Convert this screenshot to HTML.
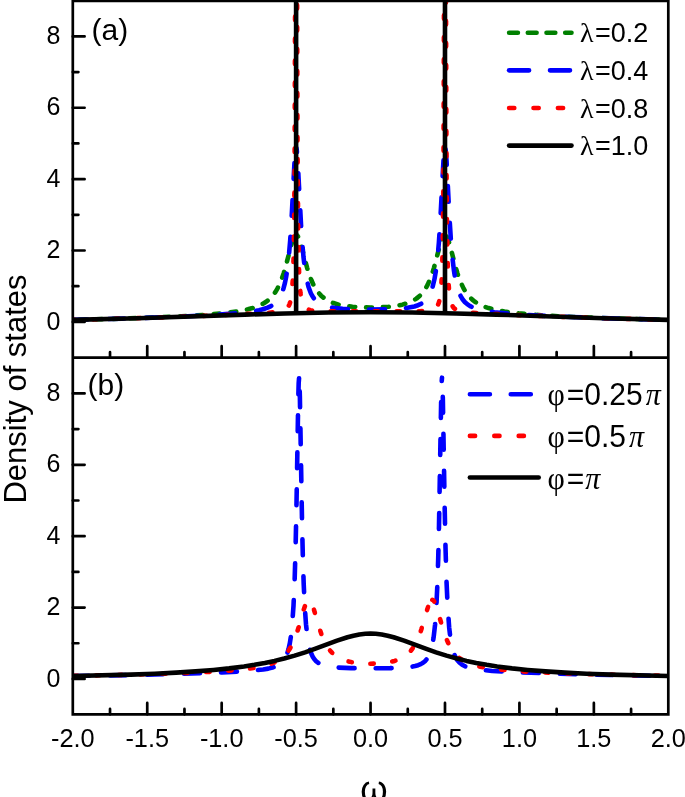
<!DOCTYPE html>
<html><head><meta charset="utf-8"><style>
html,body{margin:0;padding:0;background:#fff;width:685px;height:797px;overflow:hidden}
svg{display:block}
text{font-family:"Liberation Sans", Arial, sans-serif;fill:#000}
</style></head><body>
<svg width="685" height="797" viewBox="0 0 685 797">
<defs>
<clipPath id="ca"><rect x="72.8" y="0.8" width="595.5" height="356.8"/></clipPath>
<clipPath id="cb"><rect x="72.8" y="357.6" width="595.5" height="356.69999999999993"/></clipPath>
</defs>
<g clip-path="url(#ca)">
<path d="M72.80,319.86 L113.44,318.84 L151.46,317.58 L181.50,316.29 L204.33,314.92 L222.36,313.36 L236.71,311.52 L247.88,309.34 L252.57,308.06 L256.70,306.65 L260.16,305.19 L263.34,303.53 L266.19,301.70 L268.81,299.63 L271.21,297.32 L273.45,294.72 L275.49,291.86 L277.41,288.63 L280.65,281.76 L283.72,273.18 L286.34,264.08 L291.06,245.62 L292.76,240.00 L294.49,236.11 L295.31,235.15 L296.11,234.81" fill="none" stroke="#008000" stroke-width="4.6" stroke-linecap="round" stroke-linejoin="round" stroke-dasharray="5.90 10.90" stroke-dashoffset="10.18"/>
<path d="M296.11,234.81 L296.97,235.13 L297.86,236.20 L298.77,237.98 L299.76,240.62 L301.47,246.40 L307.13,267.82 L309.21,274.42 L311.30,280.01 L313.49,284.84 L315.84,289.02 L318.37,292.60 L321.12,295.65 L324.70,298.64 L328.75,301.09 L333.41,303.08 L338.77,304.65 L345.13,305.88 L352.54,306.76 L361.13,307.31 L370.55,307.49 L379.97,307.31 L388.56,306.76 L395.97,305.88 L402.33,304.65 L407.69,303.08 L412.35,301.09 L416.40,298.64 L419.98,295.65 L422.73,292.60 L425.26,289.02 L427.61,284.84 L429.80,280.01 L431.89,274.42 L433.97,267.82 L439.63,246.40 L441.34,240.62 L442.33,237.98 L443.24,236.20 L444.13,235.13 L444.99,234.81" fill="none" stroke="#008000" stroke-width="4.6" stroke-linecap="round" stroke-linejoin="round" stroke-dasharray="5.90 10.90" stroke-dashoffset="3.25"/>
<path d="M444.99,234.81 L445.79,235.15 L446.61,236.11 L448.34,240.00 L450.04,245.62 L454.76,264.08 L457.38,273.18 L460.45,281.76 L463.69,288.63 L465.61,291.86 L467.65,294.72 L469.89,297.32 L472.29,299.63 L474.91,301.70 L477.76,303.53 L480.94,305.19 L484.40,306.65 L488.53,308.06 L493.22,309.34 L504.39,311.52 L518.74,313.36 L536.77,314.92 L559.60,316.29 L589.64,317.58 L627.66,318.84 L668.30,319.86" fill="none" stroke="#008000" stroke-width="4.6" stroke-linecap="round" stroke-linejoin="round" stroke-dasharray="5.90 10.90" stroke-dashoffset="13.87"/>
<path d="M72.80,319.87 L122.26,318.62 L170.44,317.01 L203.16,315.56 L228.67,313.92 L246.70,312.18 L253.46,311.24 L259.04,310.20 L263.73,309.02 L267.64,307.66 L270.99,306.06 L273.89,304.15 L276.35,301.93 L278.53,299.26 L280.42,296.11 L282.10,292.41 L283.55,288.19 L284.89,283.12 L286.06,277.40 L287.18,270.45 L288.80,256.78 L290.23,239.82 L291.70,216.24 L294.58,160.59 L295.38,150.70 L295.75,148.28 L296.11,147.47" fill="none" stroke="#0000ff" stroke-width="4.6" stroke-linecap="round" stroke-linejoin="round" stroke-dasharray="15.90 21.10" stroke-dashoffset="1.31"/>
<path d="M296.11,147.47 L296.45,148.16 L296.80,150.29 L297.53,158.71 L301.06,225.31 L302.25,242.88 L303.48,256.86 L304.93,269.09 L306.61,279.06 L308.54,286.95 L310.85,293.20 L312.19,295.80 L313.64,298.04 L315.28,300.04 L317.07,301.73 L319.08,303.21 L321.35,304.49 L323.88,305.56 L326.74,306.47 L333.63,307.84 L342.64,308.75 L354.84,309.29 L370.55,309.48 L386.26,309.29 L398.46,308.75 L407.47,307.84 L414.36,306.47 L417.22,305.56 L419.75,304.49 L422.02,303.21 L424.03,301.73 L425.82,300.04 L427.46,298.04 L428.91,295.80 L430.25,293.20 L432.56,286.95 L434.49,279.06 L436.17,269.09 L437.62,256.86 L438.85,242.88 L440.04,225.31 L443.57,158.71 L444.30,150.29 L444.65,148.16 L444.99,147.47" fill="none" stroke="#0000ff" stroke-width="4.6" stroke-linecap="round" stroke-linejoin="round" stroke-dasharray="15.90 21.10" stroke-dashoffset="11.08"/>
<path d="M444.99,147.47 L445.35,148.28 L445.72,150.70 L446.52,160.59 L449.40,216.24 L450.87,239.82 L452.30,256.78 L453.92,270.45 L455.04,277.40 L456.21,283.12 L457.55,288.19 L459.00,292.41 L460.68,296.11 L462.57,299.26 L464.75,301.93 L467.21,304.15 L470.11,306.06 L473.46,307.66 L477.37,309.02 L482.06,310.20 L487.64,311.24 L494.40,312.18 L512.43,313.92 L537.94,315.56 L570.66,317.01 L618.84,318.62 L668.30,319.87" fill="none" stroke="#0000ff" stroke-width="4.6" stroke-linecap="round" stroke-linejoin="round" stroke-dasharray="15.90 21.10" stroke-dashoffset="35.36"/>
<path d="M72.80,319.88 L123.72,318.60 L178.65,316.84 L222.87,315.08 L264.23,313.06 L275.07,312.20 L281.43,311.12 L283.66,310.39 L285.51,309.45 L287.01,308.25 L288.24,306.75 L289.41,304.50 L290.36,301.61 L291.14,297.92 L291.81,293.05 L292.82,279.53 L293.54,259.00 L294.16,222.24 L294.58,169.75 L295.17,-19.20 L296.11,-19.20" fill="none" stroke="#ff0000" stroke-width="4.6" stroke-linecap="round" stroke-linejoin="round" stroke-dasharray="3.40 18.60" stroke-dashoffset="1.52"/>
<path d="M296.11,-19.20 L297.05,-19.20 L297.51,143.59 L298.20,232.40 L299.05,271.24 L299.65,283.68 L300.45,293.12 L301.43,299.50 L302.76,304.02 L303.59,305.71 L304.52,307.03 L305.64,308.13 L306.98,309.02 L310.29,310.21 L315.13,310.91 L322.35,311.26 L334.26,311.35 L411.45,311.34 L419.98,311.22 L425.71,310.94 L431.03,310.16 L432.97,309.56 L434.57,308.76 L435.91,307.74 L437.02,306.45 L437.95,304.87 L438.77,302.85 L439.59,299.84 L440.26,296.13 L441.30,285.91 L442.08,270.44 L442.64,248.87 L443.13,213.18 L443.50,161.41 L444.05,-19.20 L444.99,-19.20" fill="none" stroke="#ff0000" stroke-width="4.6" stroke-linecap="round" stroke-linejoin="round" stroke-dasharray="3.40 18.60" stroke-dashoffset="18.88"/>
<path d="M444.99,-19.20 L445.93,-19.20 L446.52,169.75 L446.94,222.24 L447.56,259.00 L448.28,279.53 L449.29,293.05 L449.96,297.92 L450.74,301.61 L451.69,304.50 L452.86,306.75 L454.09,308.25 L455.59,309.45 L457.44,310.39 L459.67,311.12 L466.03,312.20 L476.87,313.06 L518.23,315.08 L562.45,316.84 L617.38,318.60 L668.30,319.88" fill="none" stroke="#ff0000" stroke-width="4.6" stroke-linecap="round" stroke-linejoin="round" stroke-dasharray="3.40 18.60" stroke-dashoffset="2.88"/>
<path d="M72.80,319.88 L137.56,318.20 L244.75,314.61 L284.95,313.43 L328.87,312.55 L370.55,312.26 L412.24,312.55 L456.15,313.43 L496.35,314.61 L603.54,318.20 L668.30,319.88" fill="none" stroke="#000" stroke-width="4.6" stroke-linecap="round" stroke-linejoin="round"/>
<path d="M296.11,313.16 V-10" fill="none" stroke="#000" stroke-width="4.6" stroke-linecap="butt"/>
<path d="M444.99,313.16 V-10" fill="none" stroke="#000" stroke-width="4.6" stroke-linecap="butt"/>
</g>
<g clip-path="url(#cb)">
<path d="M72.80,676.02 L130.45,675.04 L180.80,673.81 L222.09,672.39 L248.91,670.95 L263.11,669.51 L268.26,668.63 L272.50,667.57 L276.01,666.29 L278.95,664.72 L281.44,662.80 L283.53,660.49 L285.51,657.34 L287.20,653.45 L288.62,648.75 L289.87,643.00 L290.94,636.11 L291.91,627.67 L293.49,606.03 L294.62,580.51 L295.59,547.50 L296.51,503.06 L298.23,400.07 L298.68,383.17 L299.09,377.68" fill="none" stroke="#0000ff" stroke-width="4.6" stroke-linecap="round" stroke-linejoin="round" stroke-dasharray="15.90 21.10" stroke-dashoffset="36.72"/>
<path d="M299.09,377.68 L299.46,382.24 L299.87,396.52 L302.09,525.09 L302.88,558.44 L303.70,584.04 L304.74,606.48 L305.99,624.15 L307.49,637.40 L308.38,642.81 L309.34,647.29 L310.38,650.98 L311.56,654.19 L312.88,656.91 L314.42,659.26 L316.13,661.19 L318.10,662.80 L320.36,664.12 L322.99,665.21 L325.96,666.06 L329.39,666.73 L338.25,667.65 L351.04,668.14 L370.55,668.30 L390.06,668.14 L402.85,667.65 L411.71,666.73 L415.14,666.06 L418.11,665.21 L420.74,664.12 L423.00,662.80 L424.97,661.19 L426.68,659.26 L428.22,656.91 L429.54,654.19 L430.72,650.98 L431.76,647.29 L432.72,642.81 L433.61,637.40 L435.11,624.15 L436.36,606.48 L437.40,584.04 L438.22,558.44 L439.01,525.09 L441.23,396.52 L441.64,382.24 L442.01,377.68" fill="none" stroke="#0000ff" stroke-width="4.6" stroke-linecap="round" stroke-linejoin="round" stroke-dasharray="15.90 21.10" stroke-dashoffset="23.40"/>
<path d="M442.01,377.68 L442.42,383.17 L442.87,400.07 L444.59,503.06 L445.51,547.50 L446.48,580.51 L447.61,606.03 L449.19,627.67 L450.16,636.11 L451.23,643.00 L452.48,648.75 L453.90,653.45 L455.59,657.34 L457.57,660.49 L459.66,662.80 L462.15,664.72 L465.09,666.29 L468.60,667.57 L472.84,668.63 L477.99,669.51 L492.19,670.95 L519.01,672.39 L560.30,673.81 L610.65,675.04 L668.30,676.02" fill="none" stroke="#0000ff" stroke-width="4.6" stroke-linecap="round" stroke-linejoin="round" stroke-dasharray="15.90 21.10" stroke-dashoffset="17.78"/>
<path d="M72.80,675.80 L116.81,674.99 L155.09,674.03 L187.60,672.92 L213.79,671.68 L233.20,670.36 L248.06,668.84 L259.57,667.01 L264.35,665.93 L268.59,664.71 L272.19,663.42 L275.44,661.97 L278.39,660.34 L281.10,658.49 L283.58,656.41 L285.82,654.12 L287.94,651.50 L289.89,648.62 L293.19,642.39 L296.32,634.58 L298.97,626.32 L303.72,609.64 L305.40,604.60 L307.14,601.08 L307.96,600.20 L308.77,599.89" fill="none" stroke="#ff0000" stroke-width="4.6" stroke-linecap="round" stroke-linejoin="round" stroke-dasharray="3.40 18.60" stroke-dashoffset="20.50"/>
<path d="M308.77,599.89 L309.63,600.18 L310.53,601.14 L311.45,602.79 L312.44,605.16 L314.14,610.32 L319.61,628.94 L321.53,634.49 L323.44,639.24 L325.36,643.25 L327.36,646.75 L329.53,649.83 L331.84,652.51 L334.90,655.26 L338.33,657.56 L342.16,659.43 L346.52,660.95 L351.52,662.13 L357.24,663.00 L363.66,663.53 L370.55,663.71 L377.44,663.53 L383.86,663.00 L389.58,662.13 L394.58,660.95 L398.94,659.43 L402.77,657.56 L406.20,655.26 L409.26,652.51 L411.57,649.83 L413.74,646.75 L415.74,643.25 L417.66,639.24 L419.57,634.49 L421.49,628.94 L426.96,610.32 L428.66,605.16 L429.65,602.79 L430.57,601.14 L431.47,600.18 L432.33,599.89" fill="none" stroke="#ff0000" stroke-width="4.6" stroke-linecap="round" stroke-linejoin="round" stroke-dasharray="3.40 18.60" stroke-dashoffset="10.52"/>
<path d="M432.33,599.89 L433.14,600.20 L433.96,601.08 L435.70,604.60 L437.38,609.64 L442.13,626.32 L444.78,634.58 L447.91,642.39 L451.21,648.62 L453.16,651.50 L455.28,654.12 L457.52,656.41 L460.00,658.49 L462.71,660.34 L465.66,661.97 L468.91,663.42 L472.51,664.71 L476.75,665.93 L481.53,667.01 L493.04,668.84 L507.90,670.36 L527.31,671.68 L553.50,672.92 L586.01,674.03 L624.29,674.99 L668.30,675.80" fill="none" stroke="#ff0000" stroke-width="4.6" stroke-linecap="round" stroke-linejoin="round" stroke-dasharray="3.40 18.60" stroke-dashoffset="0.79"/>
<path d="M72.80,676.03 L130.86,674.59 L154.68,673.70 L176.27,672.64 L195.62,671.41 L213.49,669.95 L229.12,668.35 L244.01,666.43 L254.43,664.82 L264.85,662.93 L274.53,660.89 L284.20,658.54 L294.62,655.63 L305.05,652.33 L315.47,648.67 L337.05,640.66 L347.47,637.26 L353.43,635.70 L359.38,634.53 L365.34,633.82 L370.55,633.62 L375.76,633.82 L381.72,634.53 L387.67,635.70 L393.63,637.26 L404.05,640.66 L425.63,648.67 L436.06,652.33 L446.48,655.63 L456.90,658.54 L466.57,660.89 L476.25,662.93 L486.67,664.82 L497.09,666.43 L511.98,668.35 L527.61,669.95 L545.48,671.41 L564.83,672.64 L586.42,673.70 L610.24,674.59 L668.30,676.03" fill="none" stroke="#000" stroke-width="4.6" stroke-linecap="round" stroke-linejoin="round"/>
</g>
<path d="M72.80,321.90 h11.8 M72.80,286.21 h5.6 M72.80,250.52 h11.8 M72.80,214.83 h5.6 M72.80,179.14 h11.8 M72.80,143.45 h5.6 M72.80,107.76 h11.8 M72.80,72.07 h5.6 M72.80,36.38 h11.8 M72.80,678.95 h11.8 M72.80,643.26 h5.6 M72.80,607.57 h11.8 M72.80,571.88 h5.6 M72.80,536.19 h11.8 M72.80,500.50 h5.6 M72.80,464.81 h11.8 M72.80,429.12 h5.6 M72.80,393.43 h11.8 M110.02,357.60 v-5.4 M147.24,357.60 v-11.4 M184.46,357.60 v-5.4 M221.68,357.60 v-11.4 M258.89,357.60 v-5.4 M296.11,357.60 v-11.4 M333.33,357.60 v-5.4 M370.55,357.60 v-11.4 M407.77,357.60 v-5.4 M444.99,357.60 v-11.4 M482.21,357.60 v-5.4 M519.42,357.60 v-11.4 M556.64,357.60 v-5.4 M593.86,357.60 v-11.4 M631.08,357.60 v-5.4 M110.02,714.30 v-5.4 M147.24,714.30 v-11.4 M184.46,714.30 v-5.4 M221.68,714.30 v-11.4 M258.89,714.30 v-5.4 M296.11,714.30 v-11.4 M333.33,714.30 v-5.4 M370.55,714.30 v-11.4 M407.77,714.30 v-5.4 M444.99,714.30 v-11.4 M482.21,714.30 v-5.4 M519.42,714.30 v-11.4 M556.64,714.30 v-5.4 M593.86,714.30 v-11.4 M631.08,714.30 v-5.4" stroke="#000" stroke-width="2.7" fill="none" stroke-linecap="round"/>
<path d="M72.8,0.8 H668.3 V714.3 H72.8 Z M72.8,357.6 H668.3" stroke="#000" stroke-width="2.7" fill="none" stroke-linecap="square"/>
<text x="60.4" y="329.50" text-anchor="end" font-size="25">0</text>
<text x="60.4" y="258.12" text-anchor="end" font-size="25">2</text>
<text x="60.4" y="186.74" text-anchor="end" font-size="25">4</text>
<text x="60.4" y="115.36" text-anchor="end" font-size="25">6</text>
<text x="60.4" y="43.98" text-anchor="end" font-size="25">8</text>
<text x="60.4" y="686.55" text-anchor="end" font-size="25">0</text>
<text x="60.4" y="615.17" text-anchor="end" font-size="25">2</text>
<text x="60.4" y="543.79" text-anchor="end" font-size="25">4</text>
<text x="60.4" y="472.41" text-anchor="end" font-size="25">6</text>
<text x="60.4" y="401.03" text-anchor="end" font-size="25">8</text>
<text x="72.80" y="746.6" text-anchor="middle" font-size="25.3">-2.0</text>
<text x="147.24" y="746.6" text-anchor="middle" font-size="25.3">-1.5</text>
<text x="221.68" y="746.6" text-anchor="middle" font-size="25.3">-1.0</text>
<text x="296.11" y="746.6" text-anchor="middle" font-size="25.3">-0.5</text>
<text x="370.55" y="746.6" text-anchor="middle" font-size="25.3">0.0</text>
<text x="444.99" y="746.6" text-anchor="middle" font-size="25.3">0.5</text>
<text x="519.42" y="746.6" text-anchor="middle" font-size="25.3">1.0</text>
<text x="593.86" y="746.6" text-anchor="middle" font-size="25.3">1.5</text>
<text x="668.30" y="746.6" text-anchor="middle" font-size="25.3">2.0</text>
<text x="91.5" y="39.6" font-size="30">(a)</text>
<text x="87.6" y="395" font-size="30">(b)</text>
<path d="M509.1,32.70 H571.5" stroke="#008000" stroke-width="4.6" stroke-linecap="round" fill="none" stroke-dasharray="8.8 9.9"/>
<text y="42.40" font-size="27"><tspan x="580" font-family='"Liberation Serif", "Times New Roman", serif' font-size="28">λ</tspan><tspan x="595">=0.2</tspan></text>
<path d="M509.1,70.33 H571.5" stroke="#0000ff" stroke-width="4.6" stroke-linecap="round" fill="none" stroke-dasharray="20 20.9"/>
<text y="79.90" font-size="27"><tspan x="580" font-family='"Liberation Serif", "Times New Roman", serif' font-size="28">λ</tspan><tspan x="595">=0.4</tspan></text>
<path d="M509.1,107.96 H571.5" stroke="#ff0000" stroke-width="4.6" stroke-linecap="round" fill="none" stroke-dasharray="5.2 19.2"/>
<text y="117.50" font-size="27"><tspan x="580" font-family='"Liberation Serif", "Times New Roman", serif' font-size="28">λ</tspan><tspan x="595">=0.8</tspan></text>
<path d="M509.1,145.59 H571.5" stroke="#000000" stroke-width="4.6" stroke-linecap="round" fill="none"/>
<text y="155.10" font-size="27"><tspan x="580" font-family='"Liberation Serif", "Times New Roman", serif' font-size="28">λ</tspan><tspan x="595">=1.0</tspan></text>
<path d="M469.9,394.30 H538.7" stroke="#0000ff" stroke-width="4.6" stroke-linecap="round" fill="none" stroke-dasharray="20 20.9"/>
<text y="405.50" font-size="30" transform="translate(0,405.50) scale(1,1.07) translate(0,-405.50)"><tspan x="547.5" font-family='"Liberation Serif", "Times New Roman", serif'>φ</tspan><tspan x="566.8">=0.25</tspan><tspan dx="3" font-family='"Liberation Serif", "Times New Roman", serif' font-style="italic">π</tspan></text>
<path d="M469.9,435.90 H538.7" stroke="#ff0000" stroke-width="4.6" stroke-linecap="round" fill="none" stroke-dasharray="5.2 19.2"/>
<text y="447.10" font-size="30" transform="translate(0,447.10) scale(1,1.07) translate(0,-447.10)"><tspan x="547.5" font-family='"Liberation Serif", "Times New Roman", serif'>φ</tspan><tspan x="566.8">=0.5</tspan><tspan dx="3" font-family='"Liberation Serif", "Times New Roman", serif' font-style="italic">π</tspan></text>
<path d="M469.9,477.50 H538.7" stroke="#000000" stroke-width="4.6" stroke-linecap="round" fill="none"/>
<text y="488.70" font-size="30" transform="translate(0,488.70) scale(1,1.07) translate(0,-488.70)"><tspan x="547.5" font-family='"Liberation Serif", "Times New Roman", serif'>φ</tspan><tspan x="566.8">=</tspan><tspan dx="1" font-family='"Liberation Serif", "Times New Roman", serif' font-style="italic">π</tspan></text>
<text transform="translate(26.3,389) rotate(-90)" text-anchor="middle" font-size="31">Density of states</text>
<text x="373.9" y="800.6" text-anchor="middle" font-size="35" font-family='"Liberation Serif", "Times New Roman", serif'>ω</text>
</svg>
</body></html>
